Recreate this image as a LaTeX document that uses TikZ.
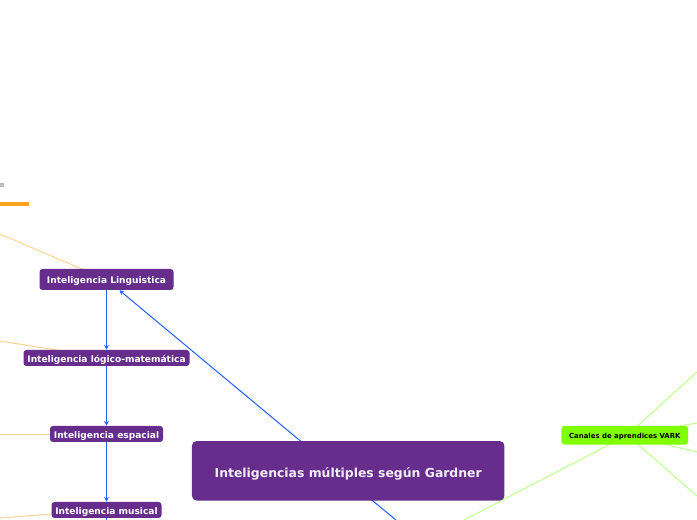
\documentclass[tikz,border=0pt]{standalone}
\usepackage{fontspec}
\setmainfont{DejaVu Sans}
\usetikzlibrary{arrows.meta,backgrounds}
\definecolor{purp}{HTML}{662D8C}
\definecolor{bluel}{HTML}{1F5FFF}
\definecolor{limef}{HTML}{80FF00}
\definecolor{limel}{HTML}{BDFF8A}
\definecolor{orgl}{HTML}{FFD291}
\definecolor{orgb}{HTML}{F7A21B}
\newcommand\lbl[2]{\raisebox{-#1}[0pt][0pt]{#2}}
\tikzset{
  topic/.style={fill=purp,rounded corners=2.2pt,text=white,font=\bfseries\fontsize{6.8}{8}\selectfont,inner sep=0pt,minimum height=12pt,anchor=center},
  maintopic/.style={topic,minimum width=234.4pt,minimum height=44.6pt,rounded corners=3.5pt,text=white!92!purp,font=\bfseries\fontsize{9.3}{11}\selectfont},
  linkb/.style={draw=bluel,line width=0.75pt},
  linkba/.style={linkb,-{Stealth[length=3.5pt,width=3.5pt]}},
  linkg/.style={draw=limel,line width=0.75pt},
  linko/.style={draw=orgl,line width=0.75pt}
}
\begin{document}
\begin{tikzpicture}[x=0.75pt,y=-0.75pt]
\useasboundingbox (0,0) rectangle (697,520);
\node[topic,minimum width=100.5pt,minimum height=15.75pt] (ling) at (106.5,279.5) {\lbl{2.9pt}{Inteligencia Linguistica}};
\node[topic,minimum width=124.5pt] (logi) at (106.5,358) {\lbl{3.2pt}{Inteligencia lógico-matemática}};
\node[topic,minimum width=84.75pt] (espa) at (106.5,434) {\lbl{3.2pt}{Inteligencia espacial}};
\node[topic,minimum width=82.5pt] (musi) at (106.5,510) {\lbl{3.2pt}{Inteligencia musical}};
\node[maintopic] (main) at (348.2,470.8) {\lbl{4.9pt}{Inteligencias múltiples según Gardner}};
\node[topic,minimum width=95pt,minimum height=14pt,fill=limef,text=black,font=\bfseries\fontsize{5.2}{7}\selectfont] (vark) at (624.8,435.2) {\lbl{2.3pt}{Canales de aprendices VARK}};
\coordinate (o1) at (0,234);
\coordinate (o2) at (0,341);
\coordinate (o3) at (0,434.5);
\coordinate (o4) at (0,518);
\coordinate (b1) at (396,520);
\coordinate (b2) at (106.5,520);
\coordinate (g1) at (697,372);
\coordinate (g2) at (697,423);
\coordinate (g3) at (697,452);
\coordinate (g4) at (697,496);
\coordinate (g5) at (464,520);
\coordinate (barl) at (0,204);
\coordinate (barr) at (29,204);
\coordinate (dotl) at (0,185);
\coordinate (dotr) at (4,185);
\begin{pgfonlayer}{background}
\draw[linko] (o1) -- (ling.center);
\draw[linko] (o2) -- (logi.center);
\draw[linko] (o3) -- (o3 -| espa.center);
\draw[linko] (o4) -- (musi.center);
\draw[linkb] (b1) -- ([xshift=-9pt]main.center);
\draw[linkg] ([xshift=2pt]vark.center) -- (g1);
\draw[linkg] ([xshift=2pt]vark.center) -- (g2);
\draw[linkg] ([xshift=2pt]vark.center) -- (g3);
\draw[linkg] ([xshift=2pt]vark.center) -- (g4);
\draw[linkg] ([xshift=2pt]vark.center) -- (g5);
\draw[linkba] ([xshift=-9pt]main.center) -- (ling);
\end{pgfonlayer}
\draw[linkba] (ling) -- (logi);
\draw[linkba] (logi) -- (espa);
\draw[linkba] (espa) -- (musi);
\draw[linkb] (musi) -- (b2);
\draw[draw=orgb,line width=2.5pt] (barl) -- (barr);
\draw[draw=gray!50,line width=2.4pt] (dotl) -- (dotr);
\end{tikzpicture}
\end{document}
